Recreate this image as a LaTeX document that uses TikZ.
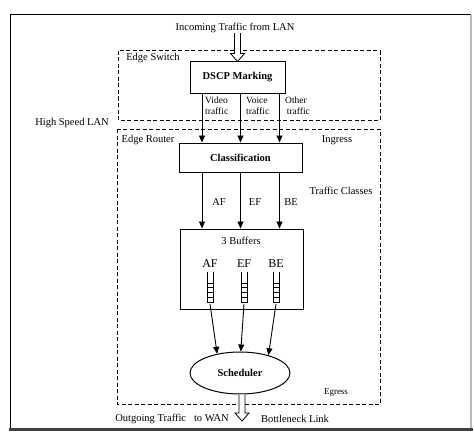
\documentclass[tikz,border=0pt]{standalone}
\usepackage{fontspec}
\setmainfont{Liberation Serif}
\usetikzlibrary{arrows.meta,calc,shapes.geometric}

\tikzset{
  box/.style={draw, line width=1pt, inner sep=0pt},
  dashbox/.style={line width=1pt, dash pattern=on 4pt off 2.5pt},
  arr/.style={line width=0.9pt, -{Triangle[length=7pt,width=6pt]}},
  txt/.style={font=\fontsize{10.5}{12}\selectfont, inner sep=0pt},
  small/.style={font=\fontsize{9.5}{11}\selectfont},
  bold/.style={font=\fontsize{10.5}{12}\selectfont\bfseries},
}

% hollow block arrow, drawn straight down onto the second point
\newcommand{\fatarrow}[2]{%
  \draw[line width=0.8pt, fill=white, line join=miter]
    ($(#1 -| #2)+(-3,0)$) -- ($(#2)+(-3,-8)$) -- ($(#2)+(-7,-8)$) -- (#2)
    -- ($(#2)+(7,-8)$) -- ($(#2)+(3,-8)$) -- ($(#1 -| #2)+(3,0)$);}

\begin{document}
\begin{tikzpicture}[x=1pt, y=-1pt]
    \useasboundingbox (0,0) rectangle (474,436);

    % Outer frame
    \draw[line width=1pt] (10,428) -- (10,15) -- (471,15);
    \draw[gray!55, line width=1.5pt] (471,15) -- (471,428);
    \draw[black!75, line width=3pt] (9,429) -- (473,429);

    % Dashed regions: switch and router
    \draw[dashbox] (118,51) rectangle (380,120);
    \draw[dashbox] (117,129) rectangle (380,404);

    % Region labels
    \node[txt] (lan) at (235,28) {Incoming Traffic from LAN};
    \node[txt] (swlbl) at (153,58) {Edge Switch};
    \node[txt] (hslan) at (72,123) {High Speed LAN};
    \node[txt] (rtlbl) at (148,140) {Edge Router};
    \node[txt] (ingress) at (337,140) {Ingress};
    \node[txt] (classes) at (341,191) {Traffic Classes};
    \node[txt, font=\fontsize{9}{10}\selectfont] (egress) at (336,393) {Egress};
    \node[txt] (wan) at (172,419) {Outgoing Traffic\ \ \ to WAN};
    \node[txt] (bneck) at (295,419) {Bottleneck Link};

    % Processing blocks
    \node[box, bold, minimum width=95pt, minimum height=31pt] (dscp) at (237.5,77.5) {DSCP Marking};
    \node[box, bold, minimum width=123pt, minimum height=29pt] (cls) at (240.5,157.5) {Classification};
    \node[box, minimum width=123pt, minimum height=80pt] (buf) at (241.5,269) {};
    \node[txt] (buflbl) at (241,241) {3 Buffers};
    \node[box, bold, ellipse, minimum width=100pt, minimum height=42pt] (sched) at (240,373) {Scheduler};

    % Columns of the three flows
    \coordinate (c1) at (202,0);
    \coordinate (c2) at (240.5,0);
    \coordinate (c3) at (279.5,0);

    % Marked traffic into the classifier
    \foreach \c in {c1,c2,c3}
        \draw[arr] (dscp.south -| \c) -- (cls.north -| \c);
    \node[txt, small, align=left, anchor=west] (video) at (205,105.5) {Video\\traffic};
    \node[txt, small, align=left, anchor=west] (voice) at (246,105.5) {Voice\\traffic};
    \node[txt, small, align=center] (other) at (296,105.5) {Other\\\ \ traffic};

    % Classes into the buffers
    \foreach \c in {c1,c2,c3}
        \draw[arr] (cls.south -| \c) -- (buf.north -| \c);
    \node[txt] (af) at (219,202) {AF};
    \node[txt] (ef) at (255,202) {EF};
    \node[txt] (be) at (291,202) {BE};

    % Queues
    \foreach \q/\x in {AF/210,EF/244,BE/276} {
        \node[txt, font=\fontsize{12}{13}\selectfont] (l\q) at (\x,264) {\q};
        \draw[line width=0.8pt] (\x-3,272) -- (\x-3,302) -- (\x+3,302) -- (\x+3,272);
        \foreach \y in {283,287.5,292,297}
            \draw[line width=0.8pt] (\x-3,\y) -- (\x+3,\y);
        \coordinate (q\q) at (\x,304);
    }

    % Queues to the scheduler
    \draw[arr] (qAF) -- (sched.140);
    \draw[arr] (qEF) -- (sched.88);
    \draw[arr] (qBE) -- (sched.32);

    % In and out of the router
    \fatarrow{lan.south}{dscp.north}
    \coordinate (wanout) at (242,421);
    \fatarrow{sched.south}{wanout}
\end{tikzpicture}
\end{document}
